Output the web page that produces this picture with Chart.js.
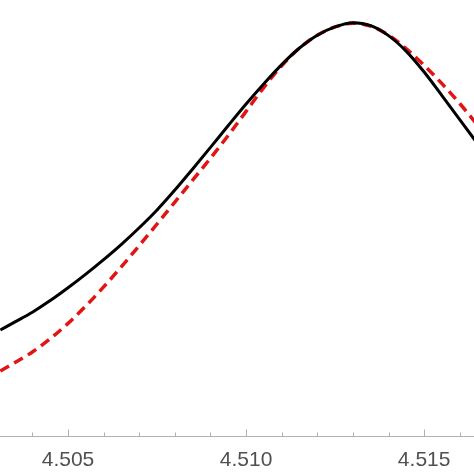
<!DOCTYPE html>
<html>
<head>
<meta charset="utf-8">
<script src="https://cdn.jsdelivr.net/npm/chart.js@4"></script>
<style>
  html, body { margin: 0; padding: 0; background: #fff; }
</style>
</head>
<body>
<canvas id="myChart" width="474" height="474"></canvas>
<script>
// x positions (shared by both curves)
const xValues = [4.5031, 4.5035, 4.5040, 4.5045, 4.5050, 4.5055, 4.5060, 4.5065, 4.5070, 4.5075,
  4.5080, 4.5085, 4.5090, 4.5095, 4.5100, 4.5105, 4.5110, 4.5115, 4.5120, 4.5125,
  4.5130, 4.5135, 4.5140, 4.5145, 4.5150, 4.5155, 4.5160, 4.5165];
// solid black curve
const blackValues = [0.256, 0.275, 0.299, 0.327, 0.358, 0.391, 0.426, 0.463, 0.503, 0.546,
  0.594, 0.645, 0.697, 0.750, 0.802, 0.851, 0.897, 0.937, 0.968, 0.988,
  0.998, 0.991, 0.967, 0.929, 0.879, 0.822, 0.764, 0.706];
// dashed red curve
const redValues = [0.157, 0.177, 0.203, 0.235, 0.272, 0.314, 0.360, 0.409, 0.460, 0.512,
  0.565, 0.618, 0.671, 0.726, 0.784, 0.842, 0.894, 0.937, 0.968, 0.988,
  0.997, 0.990, 0.968, 0.935, 0.895, 0.851, 0.803, 0.751];
const majorTicks = [4.505, 4.510, 4.515];
const minorTicks = [4.504, 4.506, 4.507, 4.508, 4.509, 4.511, 4.512, 4.513, 4.514, 4.516];

const toPoints = (ys) => xValues.map((x, i) => ({ x: x, y: ys[i] }));

// little tick marks pointing up from the axis
const tickMarks = {
  id: "tickMarks",
  afterDraw(chart) {
    const sx = chart.scales.x;
    const ctx = chart.ctx;
    const y0 = Math.round(sx.top) + 0.5;
    ctx.save();
    ctx.strokeStyle = "#b0b0b0";
    ctx.lineWidth = 1;
    ctx.beginPath();
    majorTicks.forEach((v) => {
      const x = Math.round(sx.getPixelForValue(v)) + 0.5;
      ctx.moveTo(x, y0);
      ctx.lineTo(x, y0 - 7);
    });
    minorTicks.forEach((v) => {
      const x = Math.round(sx.getPixelForValue(v)) + 0.5;
      ctx.moveTo(x, y0);
      ctx.lineTo(x, y0 - 4);
    });
    ctx.stroke();
    ctx.restore();
  },
};

var ctx = document.getElementById("myChart").getContext("2d");
var myChart = new Chart(ctx, {
  type: "line",
  data: {
    datasets: [
      {
        data: toPoints(blackValues),
        borderColor: "#000000",
        borderWidth: 3,
        pointRadius: 0,
        cubicInterpolationMode: "monotone",
        fill: false,
      },
      {
        data: toPoints(redValues),
        borderColor: "rgb(226, 20, 20)",
        borderWidth: 3.5,
        borderDash: [10, 6],
        pointRadius: 0,
        cubicInterpolationMode: "monotone",
        fill: false,
      },
    ],
  },
  options: {
    responsive: false,
    animation: false,
    layout: { padding: 0 },
    plugins: {
      legend: { display: false },
      tooltip: { enabled: false },
    },
    scales: {
      x: {
        type: "linear",
        min: 4.50309,
        max: 4.5164,
        afterBuildTicks: (scale) => {
          scale.ticks = majorTicks.concat(minorTicks)
            .sort((a, b) => a - b)
            .map((v) => ({ value: v }));
        },
        afterFit: (scale) => {
          scale.height = 38;
        },
        grid: { display: false, drawTicks: false },
        border: { display: true, color: "#b0b0b0", width: 1 },
        ticks: {
          autoSkip: false,
          maxRotation: 0,
          padding: 12,
          color: "#505050",
          font: { family: "Liberation Sans, Arial, sans-serif", size: 21 },
          callback: (v) => (majorTicks.some((m) => Math.abs(m - v) < 1e-7) ? Number(v).toFixed(3) : ""),
        },
      },
      y: {
        display: false,
        min: 0,
        max: 1.053,
      },
    },
  },
  plugins: [tickMarks],
});
</script>
</body>
</html>
